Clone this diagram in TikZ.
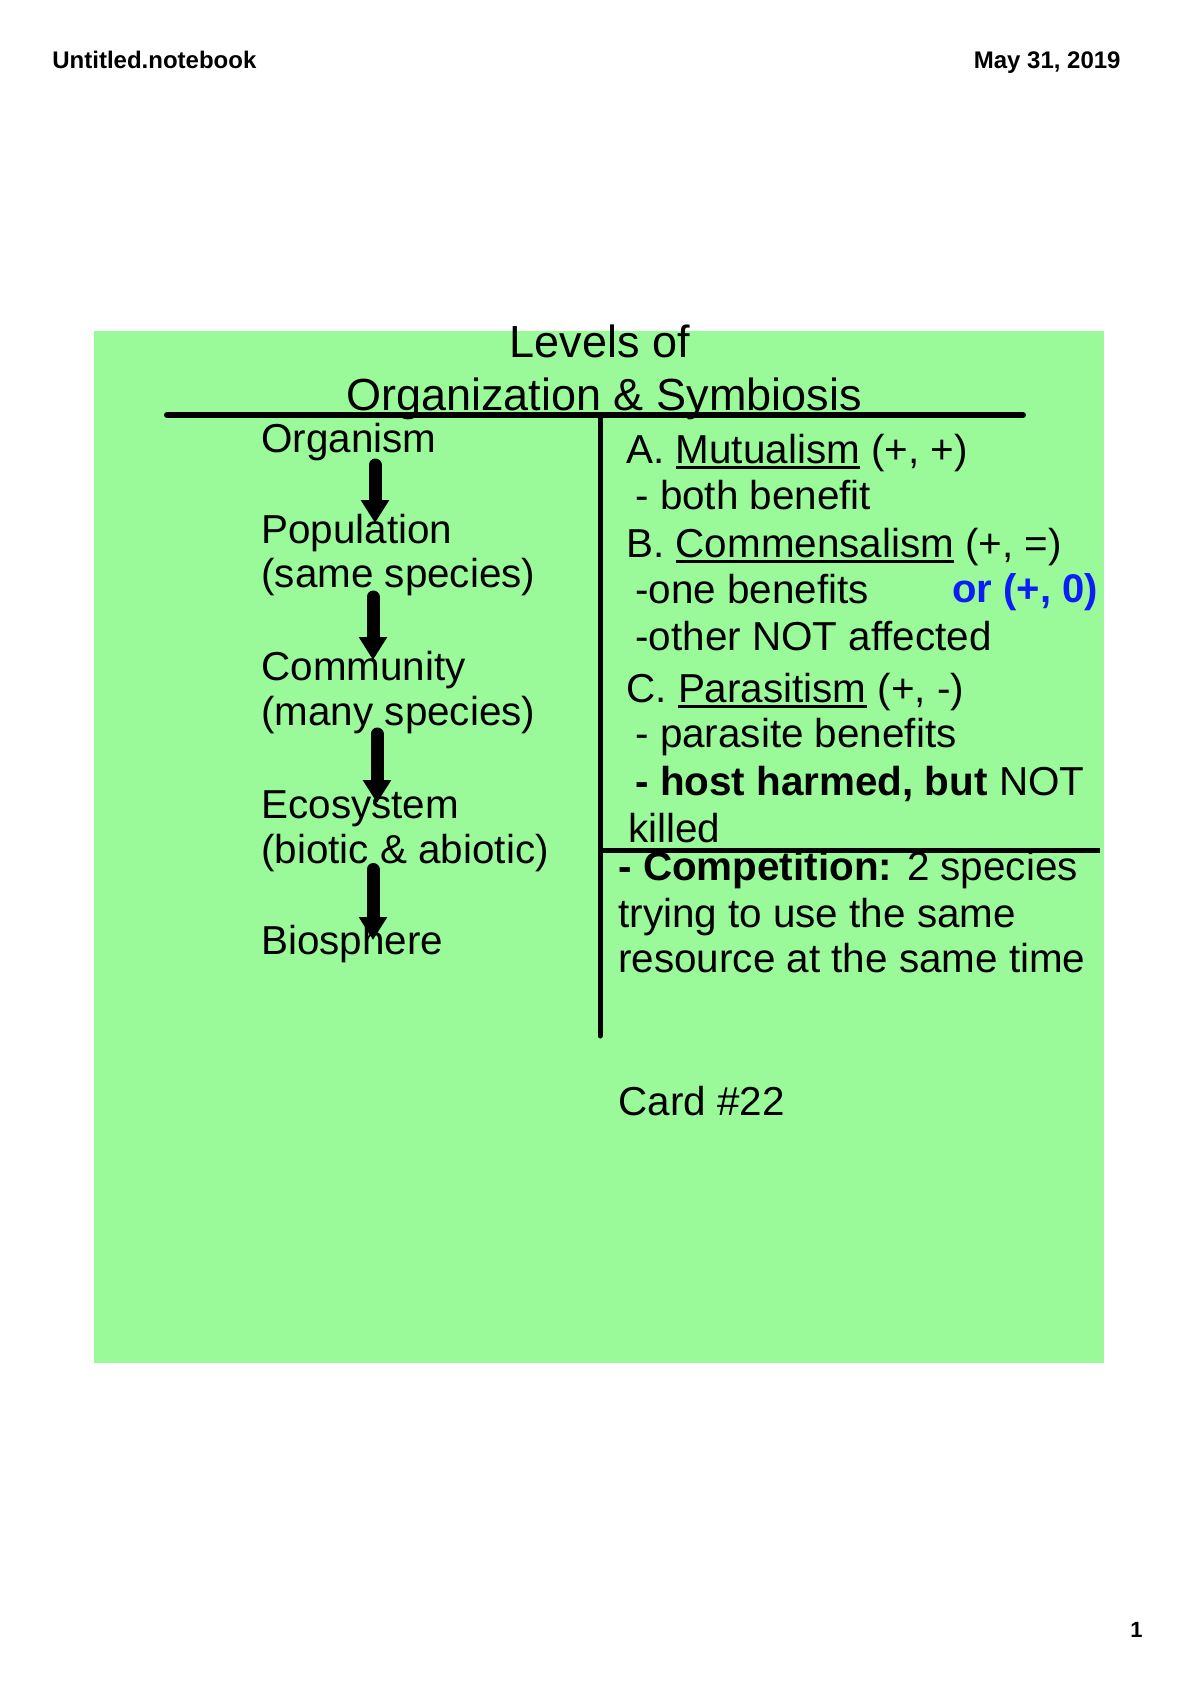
\documentclass[tikz,border=0pt]{standalone}
\usepackage{fontspec}
\setmainfont{Liberation Sans}
\usetikzlibrary{arrows.meta,calc}
\usepackage{xcolor}
\definecolor{CardGreen}{HTML}{9AFA9A}
\definecolor{NoteBlue}{HTML}{0A1EF5}
\newcommand\ulword[1]{\sbox0{#1}\rlap{\rule[-3pt]{\wd0}{1.5pt}}\usebox0}

\begin{document}
\begin{tikzpicture}[x=0.5pt, y=-0.5pt,
  every node/.style={inner sep=0pt, anchor=base west},
  cardtext/.style={font=\fontsize{20.2}{24}\selectfont},
  titletext/.style={anchor=base, font=\fontsize{22.5}{27}\selectfont},
  headtext/.style={font=\fontsize{12}{14}\selectfont\bfseries},
  levelarrow/.style={line width=6.5pt, line cap=round, -{Triangle[width=13.5pt, length=11.5pt]}}]
\useasboundingbox (0,0) rectangle (1200,1698);
\node[headtext] (file) at (52,68) {Untitled.notebook};
\node[headtext, anchor=base east] (date) at (1121,68) {May 31, 2019};
\node[headtext, font=\fontsize{11}{13}\selectfont\bfseries, anchor=base east] (page) at (1143,1637) {1};
\fill[CardGreen] (94,331) rectangle (1104,1363);
\node[titletext] (title1) at (600,357) {Levels of};
\node[titletext] (title2) at (604,410) {Organization \& Symbiosis};
\draw[line width=3pt, line cap=round] (167,415) -- (1023,415);
\draw[line width=2.5pt, line cap=round] (600,415) -- (600,1036);
\draw[line width=2.5pt] (600,850) -- (1100,850);
\node[cardtext] (org) at (261,452) {Organism};
\node[cardtext] (pop) at (261,543) {Population};
\node[cardtext] (sps) at (261,587) {(same species)};
\node[cardtext] (comm) at (261,680) {Community};
\node[cardtext] (mny) at (261,725) {(many species)};
\node[cardtext] (eco) at (261,818) {Ecosystem};
\node[cardtext] (bio) at (261,863) {(biotic \& abiotic)};
\node[cardtext] (bsp) at (261,954) {Biosphere};
\foreach \u/\l/\dx/\ta/\tb in {org/pop/114/13/-20, sps/comm/112/10/-20, mny/eco/116/9/-15, bio/bsp/112/6.5/-14}
  \draw[levelarrow] ($(\u.base west)+(\dx,\ta)$) -- ($(\l.base west)+(\dx,\tb)$);
\node[cardtext] (mut) at (626,463) {A. \ulword{Mutualism} (+, +)};
\node[cardtext] (both) at (635,509) {- both benefit};
\node[cardtext] (comn) at (626,557) {B. \ulword{Commensalism} (+, =)};
\node[cardtext] (one) at (635,603) {-one benefits};
\node[cardtext, NoteBlue, font=\fontsize{20}{24}\selectfont\bfseries] (zero) at (952,602) {or (+, 0)};
\node[cardtext] (other) at (635,650) {-other NOT affected};
\node[cardtext] (para) at (626,702) {C. \ulword{Parasitism} (+, -)};
\node[cardtext] (psb) at (635,747) {- parasite benefits};
\node[cardtext] (host) at (635,795) {\textbf{- host harmed, but} NOT};
\node[cardtext] (kill) at (628,842) {killed};
\node[cardtext] (cmp) at (618,880) {\textbf{- Competition:} 2 species};
\node[cardtext] (try) at (618,927) {trying to use the same};
\node[cardtext] (res) at (618,972) {resource at the same time};
\node[cardtext] (card) at (618,1115) {Card \#22};
\end{tikzpicture}
\end{document}
